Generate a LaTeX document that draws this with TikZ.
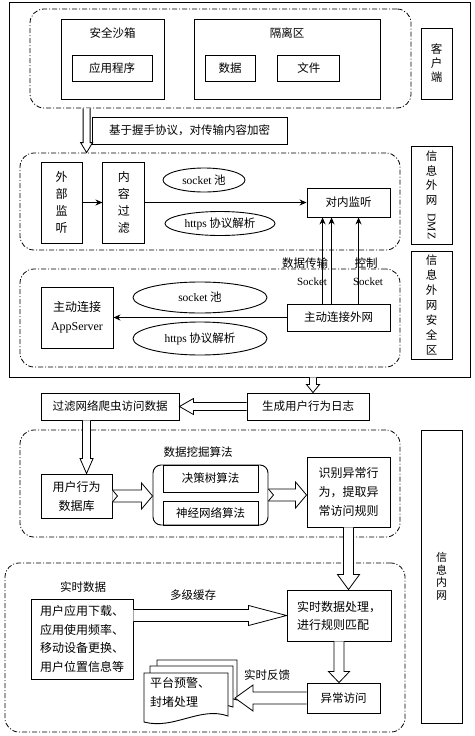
\documentclass[tikz,border=0pt]{standalone}
\usepackage{fontspec}
\setmainfont{Noto Sans CJK SC}
\newfontfamily\lat{Liberation Serif}
\usepackage{graphicx}
\usetikzlibrary{positioning,shapes.geometric,arrows.meta,calc}

\newcommand\zh{\fontsize{11.5}{14}\selectfont}
% hollow block arrow: start, end, half shaft, half head, head length
\newcommand\fatarrow[5]{%
    \coordinate (fatS) at #1;
    \coordinate (fatE) at #2;
    \coordinate (fatH) at ($(fatE)!#5!(fatS)$);
    \draw[hollow] ($(fatS)!#3!90:(fatE)$) -- ($(fatH)!#3!90:(fatE)$) -- ($(fatH)!#4!90:(fatE)$) -- (fatE)
        -- ($(fatH)!#4!-90:(fatE)$) -- ($(fatH)!#3!-90:(fatE)$) -- ($(fatS)!#3!-90:(fatE)$);
}
% notch at the tail of the last block arrow
\newcommand\fatnotch[1]{%
    \draw[line width=0.8pt] ($(fatS)!#1!90:(fatE)$) -- ($(fatS)!5pt!(fatE)$) -- ($(fatS)!#1!-90:(fatE)$);
}

\begin{document}
\begin{tikzpicture}[x=1pt, y=-1pt,
    box/.style={rectangle, draw=black, line width=0.9pt, inner sep=0pt, align=center, font=\zh},
    size/.style 2 args={minimum width=#1pt, minimum height=#2pt},
    zone/.style={rectangle, draw=black, line width=0.8pt, rounded corners=14pt, dash pattern=on 5pt off 2pt on 1pt off 2pt, inner sep=0pt},
    oval/.style={ellipse, draw=black, line width=0.9pt, inner sep=0pt, font=\zh},
    tag/.style={inner sep=0pt, align=center, font=\zh},
    arrow/.style={-{Stealth[length=7pt,width=6pt]}, line width=0.9pt},
    hollow/.style={draw=black, fill=white, line width=0.8pt, line join=miter}
]
    \useasboundingbox (0,0) rectangle (474,736);

    % outer frame and dash-dot zones
    \node[box, size={461}{375}] (outer) at (239.5,189.5) {};
    \node[zone, size={381}{99}] (client) at (220.5,58.5) {};
    \node[zone, size={380}{97}] (dmz) at (210,201.5) {};
    \node[zone, size={380}{98}] (secure) at (210,318) {};
    \node[zone, size={380}{107}] (mining) at (210,483.5) {};
    \node[zone, size={400}{169}] (realtime) at (205,647.5) {};

    % client
    \node[box, size={103}{80}] (sandbox) at (112.5,59) {};
    \node[tag] (sandboxT) at (112.5,33) {安全沙箱};
    \node[box, size={80}{26}] (app) at (112,68) {应用程序};
    \node[box, size={186}{80}] (isolate) at (287,59) {};
    \node[tag] (isolateT) at (287,33) {隔离区};
    \node[box, size={50}{26}] (data) at (230,68) {数据};
    \node[box, size={62}{26}, right=22pt of data] (file) {文件};
    \node[box, size={31}{71}] (clientlab) at (436.5,63.5) {客\\户\\端};

    \node[box, size={195}{27}] (shake) at (189.5,130.5) {基于握手协议，对传输内容加密};

    % DMZ
    \node[box, size={41}{81}, font=\fontsize{12}{17}\selectfont] (extlisten) at (61.5,202.5) {外\\部\\监\\听};
    \node[box, size={42}{81}, font=\fontsize{12}{17}\selectfont, right=20pt of extlisten] (filter) {内\\容\\过\\滤};
    \node[oval, size={82}{24}] (sock1) at (204,180) {{\lat socket} 池};
    \node[oval, size={110}{24}] (https1) at (220,223.5) {{\lat https} 协议解析};
    \node[box, size={83}{29}] (inlisten) at (348.5,202.5) {对内监听};
    \node[box, size={41}{98}, font=\fontsize{11.5}{14.5}\selectfont] (dmzlab) at (431.5,195) {信\\息\\外\\网\\[-5pt]\rotatebox{-90}{\lat DMZ}};

    % secure zone
    \node[box, size={72}{61}, font=\fontsize{12}{19}\selectfont] (appserver) at (77,317.5) {主动连接\\{\lat AppServer}};
    \node[oval, size={134}{31}] (sock2) at (200,297.5) {{\lat socket} 池};
    \node[oval, size={134}{33}] (https2) at (200,338.5) {{\lat https} 协议解析};
    \node[box, size={103}{27}] (outconn) at (338.5,317.5) {主动连接外网};
    \node[box, size={41}{108}, font=\fontsize{11.5}{15}\selectfont] (securelab) at (431.5,305) {信\\息\\外\\网\\安\\全\\区};
    \node[tag] (transT) at (305,263) {数据传输};
    \node[tag] (ctrlT) at (366,263) {控制};
    \node[tag, font=\fontsize{11}{13}\selectfont\lat] (sockA) at (312,282) {Socket};
    \node[tag, font=\fontsize{11}{13}\selectfont\lat] (sockB) at (368,282) {Socket};

    % log and filter
    \node[box, size={122}{27}] (log) at (308,406.5) {生成用户行为日志};
    \node[box, size={138}{27}] (crawl) at (110,406.5) {过滤网络爬虫访问数据};

    % data mining
    \node[tag] (miningT) at (198,452) {数据挖掘算法};
    \node[box, size={71}{44}, font=\fontsize{12}{19}\selectfont] (userdb) at (76.5,496) {用户行为\\数据库};
    \node[box, size={115}{60}, rounded corners=8pt] (algo) at (210.5,495) {};
    \node[box, size={95}{27}] (tree) at (210.5,478.5) {决策树算法};
    \node[box, size={95}{24}] (nn) at (210.5,513) {神经网络算法};
    \node[box, size={83}{70}, font=\fontsize{12}{19}\selectfont] (rule) at (348.5,492) {识别异常行\\为，提取异\\常访问规则};
    \node[box, size={41}{293}, font=\fontsize{11}{12.5}\selectfont] (intralab) at (441.5,576.5) {信\\息\\内\\网};

    % real time
    \node[tag] (realT) at (83,587) {实时数据};
    \node[box, size={102}{80}, font=\fontsize{12}{18.5}\selectfont, align=left] (feature) at (82,639) {用户应用下载、\\应用使用频率、\\移动设备更换、\\用户位置信息等};
    \node[tag] (cacheT) at (193,595) {多级缓存};
    \node[box, size={104}{51}, font=\fontsize{12}{18}\selectfont, align=left] (process) at (339,615.5) {实时数据处理，\\进行规则匹配};
    \node[box, size={73}{30}] (anomaly) at (343.5,698) {异常访问};
    \node[tag] (feedT) at (267,675) {实时反馈};
    \foreach \l/\t/\r/\b in {157/660/237/706, 150/666/233/713, 144/673/228/722}
        \draw[line width=0.9pt, fill=white] (\l,\t) -- (\r,\t) -- (\r,\b-6) .. controls (\r-28,\b-16) and (\l+30,\b+8) .. (\l,\b) -- cycle;
    \node[tag, font=\fontsize{12}{19}\selectfont, align=left] (docs) at (180,692) {平台预警、\\封堵处理};
    \coordinate (docsin) at (235,700);

    % thin arrows
    \draw[arrow] (extlisten) -- (filter);
    \draw[arrow] (filter) -- (inlisten);
    \draw[arrow] (outconn) -- (appserver);
    \foreach \dx in {36,45,72}
        \draw[arrow] ([xshift=\dx pt]outconn.north west) -- ([xshift=\dx pt]outconn.north west |- inlisten.south);

    % hollow arrows
    \fatarrow{([xshift=57pt]client.south west)}{([xshift=67pt]dmz.north west)}{3.5pt}{6pt}{10pt}
    \fatarrow{([xshift=5pt]log.north |- outer.south)}{([xshift=5pt]log.north)}{3.5pt}{6.5pt}{8pt}
    \fatarrow{(log.west)}{(crawl.east)}{4pt}{8pt}{14pt}
    \fatarrow{([xshift=46pt]crawl.south west)}{([xshift=46pt]userdb.north west)}{4pt}{6.5pt}{15pt}
    \fatarrow{(userdb.east)}{(userdb.east -| algo.west)}{6pt}{13pt}{11pt}
    \fatnotch{6pt}
    \fatarrow{(algo.east)}{(algo.east -| rule.west)}{6pt}{13pt}{11pt}
    \fatnotch{6pt}
    \fatarrow{(rule.south)}{(rule.south |- process.north)}{5pt}{11pt}{15pt}
    \fatarrow{(feature.east |- process.west)}{(process.west)}{6pt}{10pt}{38pt}
    \fatarrow{(process.south)}{(process.south |- anomaly.north)}{5pt}{10.5pt}{11pt}
    \fatarrow{(anomaly.west)}{(anomaly.west -| docsin)}{6pt}{13pt}{18pt}
\end{tikzpicture}
\end{document}
